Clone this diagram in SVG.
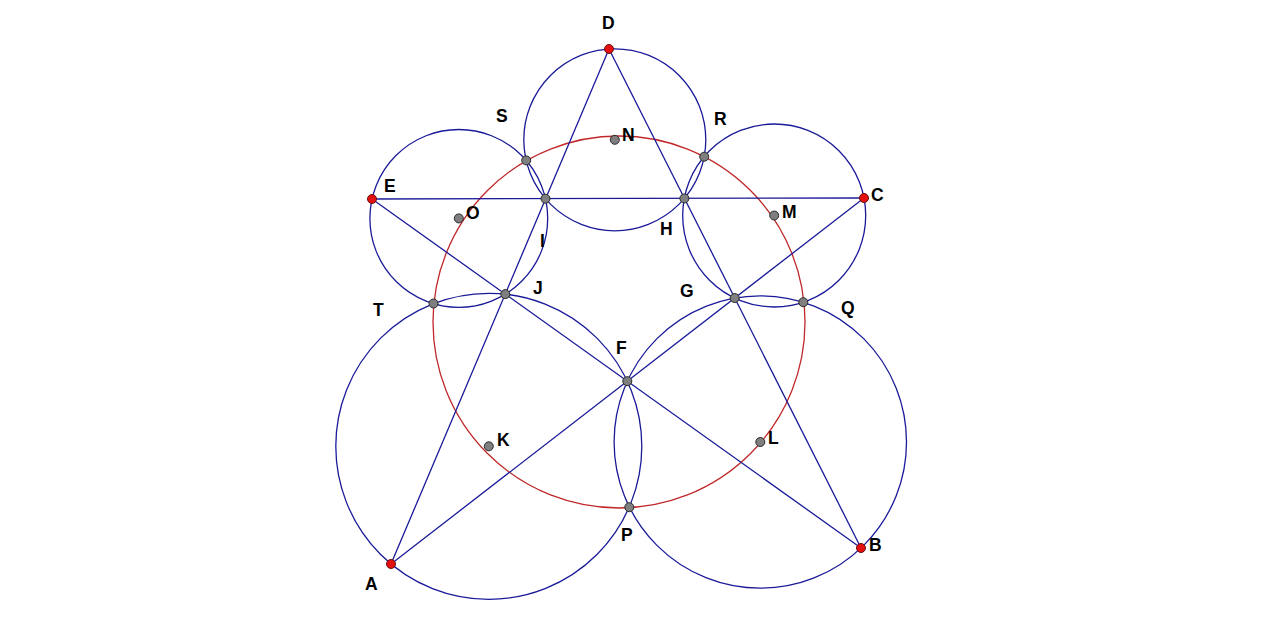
<svg xmlns="http://www.w3.org/2000/svg" width="1280" height="640" viewBox="0 0 1280 640">
<style>
.c{fill:none;stroke:#1a1a99;stroke-width:1.3}
.rc{fill:none;stroke:#c0282a;stroke-width:1.3}
.l{stroke:#1a1a99;stroke-width:1.3;fill:none}
.p{fill:#7f7f7f;stroke:#2a2a2a;stroke-width:1}
.r{fill:#e41010;stroke:#6a1010;stroke-width:1}
text{font-family:"Liberation Sans",Arial,sans-serif;font-weight:bold;font-size:17.5px;fill:#000}
</style>
<rect width="1280" height="640" fill="#fff"/>
<g id="connectors">
<circle id="circleN" class="c" cx="614.8" cy="139.8" r="91"/>
<circle id="circleO" class="c" cx="458.8" cy="218.4" r="88.9"/>
<circle id="circleM" class="c" cx="774.2" cy="215.5" r="91.5"/>
<circle id="circleK" class="c" cx="488.8" cy="446.3" r="153"/>
<circle id="circleL" class="c" cx="760.3" cy="442" r="146.2"/>
<circle id="miquel" class="rc" cx="619" cy="322" r="186"/>
<line class="l" x1="391" y1="564" x2="609" y2="49"/>
<line class="l" x1="609" y1="49" x2="861" y2="548"/>
<line class="l" x1="861" y1="548" x2="372" y2="199"/>
<line class="l" x1="372" y1="199" x2="864" y2="198"/>
<line class="l" x1="864" y1="198" x2="391" y2="564"/>
</g>
<g id="A"><circle class="r" cx="391" cy="564" r="4.5"/><text x="365" y="590">A</text></g>
<g id="B"><circle class="r" cx="861" cy="548" r="4.5"/><text x="869" y="551">B</text></g>
<g id="C"><circle class="r" cx="864" cy="198" r="4.5"/><text x="871" y="201">C</text></g>
<g id="D"><circle class="r" cx="609" cy="49" r="4.5"/><text x="602" y="29">D</text></g>
<g id="E"><circle class="r" cx="372" cy="199" r="4.5"/><text x="384" y="192">E</text></g>
<g id="F"><circle class="p" cx="627.3" cy="381.2" r="4.5"/><text x="616" y="354">F</text></g>
<g id="G"><circle class="p" cx="734.7" cy="298" r="4.5"/><text x="680" y="297">G</text></g>
<g id="H"><circle class="p" cx="684.4" cy="198.4" r="4.5"/><text x="660" y="235">H</text></g>
<g id="I"><circle class="p" cx="545.5" cy="198.7" r="4.5"/><text x="540" y="247">I</text></g>
<g id="J"><circle class="p" cx="505.3" cy="294.1" r="4.5"/><text x="533" y="294">J</text></g>
<g id="K"><circle class="p" cx="488.8" cy="446.3" r="4.5"/><text x="497" y="446">K</text></g>
<g id="L"><circle class="p" cx="760.3" cy="442" r="4.5"/><text x="768" y="444">L</text></g>
<g id="M"><circle class="p" cx="774.2" cy="215.5" r="4.5"/><text x="782" y="218">M</text></g>
<g id="N"><circle class="p" cx="614.8" cy="139.8" r="4.5"/><text x="622" y="141">N</text></g>
<g id="O"><circle class="p" cx="458.8" cy="218.4" r="4.5"/><text x="466" y="219">O</text></g>
<g id="P"><circle class="p" cx="629.3" cy="507.2" r="4.5"/><text x="621" y="541">P</text></g>
<g id="Q"><circle class="p" cx="803.3" cy="302.2" r="4.5"/><text x="841" y="314">Q</text></g>
<g id="R"><circle class="p" cx="704.2" cy="156.7" r="4.5"/><text x="714" y="125">R</text></g>
<g id="S"><circle class="p" cx="526.2" cy="160.4" r="4.5"/><text x="496" y="122">S</text></g>
<g id="T"><circle class="p" cx="433.5" cy="303.5" r="4.5"/><text x="373" y="316">T</text></g>
</svg>
